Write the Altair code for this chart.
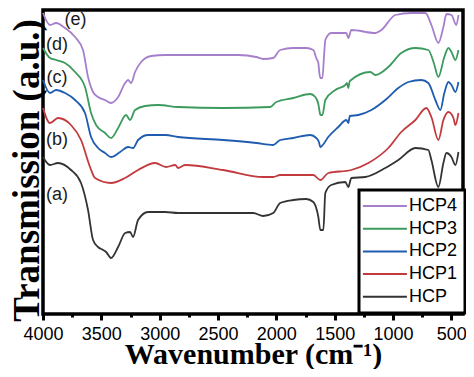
import altair as alt
import pandas as pd

series = ["HCP4", "HCP3", "HCP2", "HCP1", "HCP"]
colors = ["#a67fcc", "#3d9a5e", "#1f5caf", "#c33a3e", "#333333"]

hcp4_wn = [4000, 3940, 3888, 3811, 3725, 3657, 3614, 3571, 3528, 3468, 3417, 3356, 3296, 3271, 3245,
           3211, 3159, 3073, 2953, 2842, 2456, 2327, 2172, 2112, 2027, 1967, 1855, 1744, 1683, 1658,
           1640, 1630, 1623, 1605, 1590, 1580, 1530, 1400, 1383, 1357, 1151, 1100, 980, 843, 722,
           671, 611, 568, 542, 499, 457, 439]
hcp4_t = [301, 289, 291, 286, 277, 264, 237, 222, 217, 214, 211, 217, 231, 234, 231,
          242, 252, 258, 259, 259, 259, 259, 257, 255, 256, 264, 266, 266, 264, 256,
          251, 240, 236, 236, 260, 274, 281, 281, 276, 284, 281, 284, 299, 301, 301,
          289, 271, 287, 300, 299, 289, 299]

hcp3_wn = [4000, 3940, 3888, 3811, 3725, 3640, 3588, 3545, 3468, 3417, 3356, 3288, 3254, 3211, 3125,
           3013, 2842, 2456, 2052, 2001, 1855, 1709, 1666, 1640, 1630, 1623, 1605, 1580, 1495, 1409,
           1395, 1383, 1370, 1194, 1151, 1040, 929, 808, 697, 650, 611, 560, 525, 499, 465, 439]
hcp3_t = [266, 256, 254, 251, 242, 227, 201, 189, 181, 176, 186, 199, 194, 204, 208,
          209, 207, 206, 207, 212, 216, 220, 217, 210, 203, 199, 199, 214, 224, 229,
          231, 226, 233, 242, 239, 247, 261, 266, 264, 251, 237, 257, 266, 262, 254, 264]

hcp2_wn = [4000, 3940, 3888, 3811, 3725, 3640, 3588, 3528, 3468, 3417, 3339, 3271, 3228, 3185, 3099,
           2953, 2842, 2456, 2172, 2027, 1967, 1855, 1709, 1658, 1635, 1623, 1610, 1555, 1469, 1400,
           1383, 1370, 1297, 1185, 1066, 954, 868, 757, 697, 637, 594, 560, 525, 499, 465, 439]
hcp2_t = [234, 221, 224, 221, 214, 201, 177, 166, 161, 157, 162, 167, 166, 174, 179,
          179, 177, 174, 171, 169, 174, 176, 179, 176, 172, 167, 168, 177, 187, 194,
          191, 198, 199, 204, 214, 226, 232, 234, 231, 214, 204, 221, 232, 229, 222, 232]

hcp1_wn = [4000, 3940, 3871, 3760, 3674, 3597, 3554, 3417, 3296, 3185, 3039, 2945, 2867, 2842, 2782,
           2456, 2112, 2027, 1967, 1683, 1623, 1555, 1357, 1211, 1040, 929, 808, 714, 671, 611,
           568, 525, 482, 465, 439]
hcp1_t = [206, 191, 196, 189, 174, 147, 136, 131, 136, 144, 151, 147, 149, 146, 149,
          144, 137, 137, 139, 139, 134, 141, 144, 151, 166, 182, 194, 206, 197, 174,
          194, 202, 196, 189, 201]

hcp_wn = [4000, 3940, 3871, 3760, 3674, 3614, 3571, 3528, 3485, 3459, 3417, 3356, 3296, 3254, 3228,
          3185, 3099, 2953, 2842, 2456, 2198, 2112, 2027, 1967, 1855, 1744, 1683, 1640, 1623, 1597,
          1580, 1530, 1409, 1383, 1357, 1237, 1066, 954, 808, 697, 671, 611, 568, 542, 499, 465, 439]
hcp_t = [157, 149, 151, 144, 131, 104, 74, 67, 64, 62, 56, 67, 81, 82, 77,
         94, 102, 102, 101, 101, 101, 98, 101, 111, 114, 115, 112, 97, 84, 84,
         121, 129, 132, 127, 136, 137, 146, 154, 166, 164, 154, 127, 151, 161, 157, 149, 162]

label_text = ["(e)", "(d)", "(c)", "(b)", "(a)"]
label_wn = [3721, 3880, 3880, 3880, 3880]
label_t = [294, 269, 236, 174, 119]

major_ticks = [4000, 3500, 3000, 2500, 2000, 1500, 1000, 500]
minor_ticks = [3750, 3250, 2750, 2250, 1750, 1250, 750]

rows = []
for name, wn, t in [("HCP", hcp_wn, hcp_t), ("HCP1", hcp1_wn, hcp1_t), ("HCP2", hcp2_wn, hcp2_t),
                    ("HCP3", hcp3_wn, hcp3_t), ("HCP4", hcp4_wn, hcp4_t)]:
    for i, (w, v) in enumerate(zip(wn, t)):
        rows.append({"series": name, "wn": w, "t": v, "i": i})
df = pd.DataFrame(rows)
labels_df = pd.DataFrame({"text": label_text, "wn": label_wn, "t": label_t})

xscale = alt.Scale(domain=[4000, 400], nice=False, zero=False)
yscale = alt.Scale(domain=[0, 304], nice=False, zero=False)

yaxis = alt.Axis(title="Transmission (a.u.)", labels=False, ticks=False, domain=False, grid=False,
                 titleFont="Liberation Serif", titleFontSize=37, titleFontWeight="bold",
                 titleColor="black", titleX=-16, titleY=160, titleAngle=270,
                 titleAlign="center", titleBaseline="middle")

lines = alt.Chart(df).mark_line(strokeWidth=1.8, interpolate="monotone").encode(
    x=alt.X("wn:Q", scale=xscale,
            axis=alt.Axis(orient="bottom", values=major_ticks, title="Wavenumber (cm\u207b\u00b9)",
                          tickSize=6, tickWidth=3, tickColor="black", labelFlush=False,
                          labelOverlap=False, labelPadding=5, format="d",
                          labelFont="Liberation Sans", labelFontSize=18, labelColor="black",
                          titleFont="Liberation Serif", titleFontSize=30, titleFontWeight="bold",
                          titleColor="black", titleY=49, titleBaseline="alphabetic",
                          domain=False, grid=False)),
    y=alt.Y("t:Q", scale=yscale, axis=yaxis),
    color=alt.Color("series:N", scale=alt.Scale(domain=series, range=colors),
                    legend=alt.Legend(title=None, orient="none", legendX=316, legendY=180,
                                      symbolType="M-2.2,0H5.8", symbolSize=121,
                                      symbolStrokeWidth=2, labelFont="Liberation Sans",
                                      labelFontSize=18, labelColor="black", labelOffset=25,
                                      rowPadding=4.7, padding=7, strokeColor="black",
                                      fillColor="white")),
    detail="series:N",
    order="i:Q",
)

texts = alt.Chart(labels_df).mark_text(font="Liberation Sans", fontSize=18, color="#1a1a1a",
                                       align="center", baseline="middle").encode(
    x=alt.X("wn:Q", scale=xscale,
            axis=alt.Axis(orient="bottom", values=minor_ticks, title=None, labels=False,
                          tickSize=3, tickWidth=3, tickColor="black", domain=False, grid=False)),
    y=alt.Y("t:Q", scale=yscale, axis=yaxis),
    text="text:N",
)

chart = alt.layer(lines, texts).resolve_axis(x="independent").properties(
    width=420, height=304,
    padding={"left": 35, "top": 2, "right": 3, "bottom": 55},
    autosize=alt.AutoSizeParams(type="none"),
).configure_view(stroke="black", strokeWidth=3.5).configure_legend(strokeWidth=3)

chart.save("out.html", embed_options={"renderer": "svg", "actions": False})
